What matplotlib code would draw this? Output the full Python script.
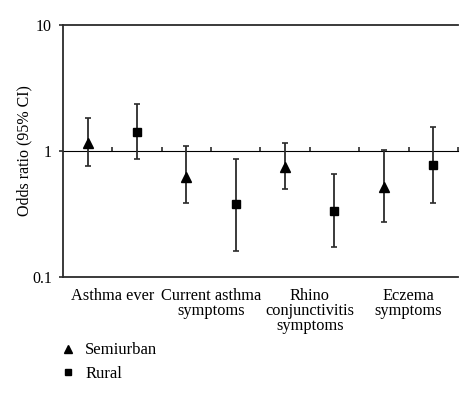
import matplotlib
matplotlib.use("Agg")
import matplotlib.pyplot as plt
from matplotlib.lines import Line2D

categories = ["Asthma ever", "Current asthma\nsymptoms", "Rhino\nconjunctivitis\nsymptoms", "Eczema\nsymptoms"]
semi_or = [1.15, 0.625, 0.75, 0.52]
semi_lo = [0.76, 0.385, 0.50, 0.272]
semi_hi = [1.82, 1.10, 1.15, 1.02]
rural_or = [1.42, 0.38, 0.336, 0.77]
rural_lo = [0.87, 0.162, 0.172, 0.385]
rural_hi = [2.36, 0.86, 0.66, 1.56]
ytick_vals = [0.1, 1, 10]
ytick_labels = ["0.1", "1", "10"]

plt.rcParams['font.family'] = ['Liberation Serif', 'DejaVu Serif']
fig = plt.figure(figsize=(4.74, 3.97), dpi=100)
ax = fig.add_axes([0.133, 0.302, 0.833, 0.635])
col = '#2b2b2b'

xs_semi = [2 * i + 0.5 for i in range(len(categories))]
xs_rural = [2 * i + 1.5 for i in range(len(categories))]

def err(v, lo, hi):
    return [[a - b for a, b in zip(v, lo)], [c - a for a, c in zip(v, hi)]]

ax.errorbar(xs_semi, semi_or, yerr=err(semi_or, semi_lo, semi_hi), fmt='^', color='black',
            ecolor=col, elinewidth=1.3, capsize=2.5, capthick=1.2, markersize=7.5, zorder=3)
ax.errorbar(xs_rural, rural_or, yerr=err(rural_or, rural_lo, rural_hi), fmt='s', color='black',
            ecolor=col, elinewidth=1.3, capsize=2.5, capthick=1.2, markersize=6, zorder=3)

ax.set_yscale('log')
ax.set_ylim(0.1, 10)
ax.set_xlim(0, 2 * len(categories))
ax.set_yticks(ytick_vals)
ax.set_yticklabels(ytick_labels, fontsize=11.5)
ax.minorticks_off()
ax.tick_params(axis='y', length=3, width=1.2, color=col, pad=5)
ax.set_xticks([2 * i + 1 for i in range(len(categories))])
ax.set_xticklabels(categories, fontsize=11.8, linespacing=0.92, va='top')
ax.tick_params(axis='x', length=0, pad=8)
ax.set_ylabel("Odds ratio (95% CI)", fontsize=11.5, labelpad=0)

for s in ['top', 'left', 'bottom']:
    ax.spines[s].set_color(col)
    ax.spines[s].set_linewidth(1.3)
ax.spines['right'].set_visible(False)

sec = ax.secondary_xaxis(0.5)
sec.set_xticks(list(range(1, 2 * len(categories) + 1)))
sec.set_xticklabels([])
sec.tick_params(length=3, width=1.2, color=col, direction='out')
sec.spines['bottom'].set_color(col)
sec.spines['bottom'].set_linewidth(1.3)

handles = [Line2D([], [], marker='^', color='black', linestyle='none', markersize=6),
           Line2D([], [], marker='s', color='black', linestyle='none', markersize=4.5)]
fig.legend(handles, ["Semiurban", "Rural"], loc='lower left', bbox_to_anchor=(0.095, 0.0),
           frameon=False, fontsize=12, handlelength=1.0, handletextpad=0.5, labelspacing=0.45)

fig.savefig("out.png", dpi=100)
